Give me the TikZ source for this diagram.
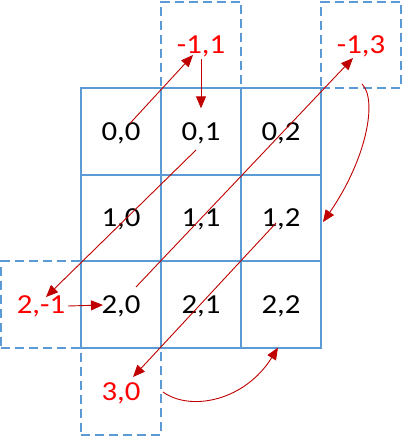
\documentclass[tikz,border=0pt]{standalone}
\usepackage{fontspec}
\setmainfont{Carlito}[FakeStretch=1.12]
\usetikzlibrary{arrows.meta}
\definecolor{gridblue}{RGB}{91,155,213}
\definecolor{arrowred}{RGB}{192,0,0}
\definecolor{txtred}{RGB}{255,0,0}
\begin{document}
\begin{tikzpicture}[x=1pt,y=-1pt,
  cell/.style={draw=gridblue, line width=2pt, minimum width=80pt, minimum height=86.7pt,
    inner sep=0pt, text depth=0pt, font=\fontsize{27.5}{32}\selectfont},
  ghost/.style={cell, dash pattern=on 9pt off 5pt, text=txtred},
  link/.style={draw=arrowred, line width=0.9pt, -{Triangle[length=12pt,width=10pt]}}]
\fill[white] (0,0) rectangle (402,437);
% ghost cells
\node[ghost] (g11) at (201,45) {-1,1};
\node[ghost] (g13) at (361,45) {-1,3};
\node[ghost] (g2m) at (41,304.75) {2,-1};
\node[ghost] (g30) at (121,391.5) {3,0};
% grid
\node[cell] (c00) at (121,131.35) {0,0};
\node[cell] (c01) at (201,131.35) {0,1};
\node[cell] (c02) at (281,131.35) {0,2};
\node[cell] (c10) at (121,218.05) {1,0};
\node[cell] (c11) at (201,218.05) {1,1};
\node[cell] (c12) at (281,218.05) {1,2};
\node[cell] (c20) at (121,304.75) {2,0};
\node[cell] (c21) at (201,304.75) {2,1};
\node[cell] (c22) at (281,304.75) {2,2};
% connectors
\draw[link] ([shift={(9,-8)}]c00.center) -- ([shift={(-8,10)}]g11.center);
\draw[link] ([shift={(0,14)}]g11.center) -- ([shift={(0,-23)}]c01.center);
\draw[link] ([shift={(-5,18.65)}]c01.center) -- ([shift={(5,-7.75)}]g2m.center);
\draw[link] ([shift={(15,-17.75)}]c20.center) -- ([shift={(-8,13)}]g13.center);
\draw[link] ([shift={(1,39)}]g13.center) .. controls +(16,16) and +(43,-62) .. ([shift={(1,4)}]c12.east);
\draw[link] ([shift={(27,1.25)}]g2m.center) -- ([shift={(-18,0.25)}]c20.center);
\draw[link] ([shift={(-5,5)}]c12.center) -- ([shift={(12,-14.5)}]g30.center);
\draw[link] ([shift={(1,0.5)}]g30.east) .. controls +(28,20) and +(-33,53) .. ([shift={(-3,-1.5)}]c22.south);
\end{tikzpicture}
\end{document}
